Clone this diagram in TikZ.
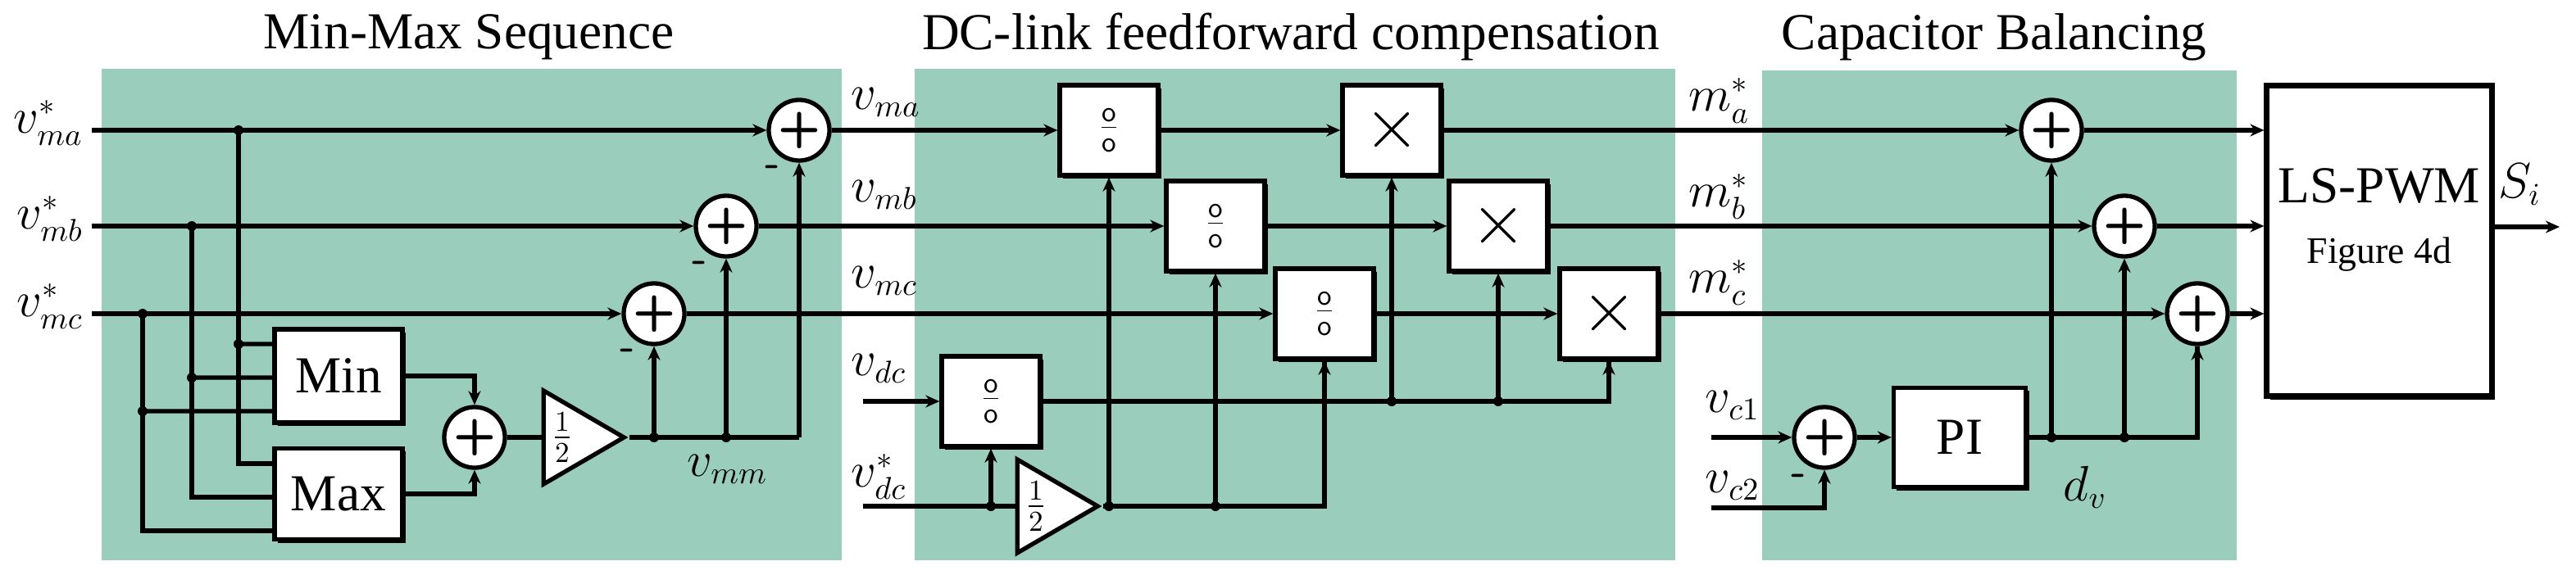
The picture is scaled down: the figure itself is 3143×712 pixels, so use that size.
\documentclass[tikz,border=0pt]{standalone}
\usepackage{fontspec}
\setmainfont{Liberation Serif}
\usetikzlibrary{arrows.meta,shapes.geometric,shadows}
\definecolor{panel}{HTML}{9BCDBC}
\begin{document}
\begin{tikzpicture}[x=0.01cm,y=-0.01cm,
  every path/.style={line width=1.5pt},
  ar/.style={-{Stealth[length=0.17cm,width=0.15cm]}},
  sum/.style={circle,draw,fill=white,minimum size=0.74cm,inner sep=0pt,font=\sffamily\bfseries\LARGE},
  blk/.style={draw,fill=white,inner sep=0pt,general shadow={fill=black,shadow xshift=0.04cm,shadow yshift=-0.04cm}},
  dv/.style={blk,minimum width=1.2cm,minimum height=1.1cm,font=\Large,execute at begin node={$\frac{\mathsf{o}}{\mathsf{o}}$}},
  mu/.style={blk,minimum width=1.2cm,minimum height=1.1cm,font=\Huge,execute at begin node={$\times$}},
  gain/.style={isosceles triangle,isosceles triangle stretches,draw,fill=white,inner sep=0pt,minimum width=1.14cm,minimum height=0.98cm},
  dot/.style={circle,fill,inner sep=0pt,minimum size=0.12cm},
  lab/.style={font=\fontsize{16}{18}\selectfont,anchor=west,inner sep=0pt},
  title/.style={font=\fontsize{18}{20}\selectfont},
  half/.style={font=\Large},
  minus/.style={font=\sffamily\bfseries\Large}]
\useasboundingbox (0,0) rectangle (3143,712);
% panels
\fill[panel] (124,84) rectangle (1027,684);
\fill[panel] (1116,84) rectangle (2044,684);
\fill[panel] (2150,86) rectangle (2729,684);
\node[title] (t1) at (572,45) {Min-Max Sequence};
\node[title] (t2) at (1575,45) {DC-link feedforward compensation};
\node[title] (t3) at (2433,45) {Capacitor Balancing};
% panel 1
\coordinate (ia) at (112,159); \coordinate (ib) at (112,276); \coordinate (ic) at (112,383);
\node[lab,anchor=east] (la) at (104,150) {$v^*_{ma}$};
\node[lab,anchor=east] (lb) at (104,267) {$v^*_{mb}$};
\node[lab,anchor=east] (lc) at (104,374) {$v^*_{mc}$};
\node[sum] (Sa) at (975,159) {+};
\node[sum] (Sb) at (886,276) {+};
\node[sum] (Sc) at (798,383) {+};
\node[blk,minimum width=1.56cm,minimum height=1.14cm,font=\fontsize{18}{20}\selectfont] (Min) at (413,459) {Min};
\node[blk,minimum width=1.56cm,minimum height=1.11cm,font=\fontsize{18}{20}\selectfont] (Max) at (413,603) {Max};
\node[sum] (S1) at (579,534) {+};
\node[gain] (G1) at (696,534) {};
\node[half] (h1) at (686,534) {$\frac{1}{2}$};
\coordinate (ja) at (291,159); \coordinate (jb) at (234,276); \coordinate (jc) at (174,383);
\draw[ar] (ia) -- (Sa);
\draw[ar] (ib) -- (Sb);
\draw[ar] (ic) -- (Sc);
\draw (ja) |- ([yshift=0.37cm]Max.west);
\draw (jb) |- ([yshift=-0.04cm]Max.west);
\draw (jc) |- ([yshift=-0.45cm]Max.west);
\draw (ja |- 0,420) coordinate (ka) -- ([yshift=0.39cm]Min.west);
\draw (jb |- 0,461) coordinate (kb) -- ([yshift=-0.02cm]Min.west);
\draw (jc |- 0,502) coordinate (kc) -- ([yshift=-0.43cm]Min.west);
\foreach \p in {ja,jb,jc,ka,kb,kc} \node[dot] at (\p) {};
\draw[ar] (Min.east) -| (S1.north);
\draw[ar] (Max.east) -| (S1.south);
\draw (S1) -- (G1.west);
\draw (G1.apex) -- (Sa.south |- G1.apex) coordinate (ma);
\coordinate (mc) at (Sc.south |- G1.apex);
\coordinate (mb) at (Sb.south |- G1.apex);
\draw[ar] (mc) -- (Sc.south);
\draw[ar] (mb) -- (Sb.south);
\draw[ar] (ma) -- (Sa.south);
\node[dot] at (mc) {}; \node[dot] at (mb) {};
\node[lab] (lmm) at (836,573) {$v_{mm}$};
\node[minus] at ([xshift=-0.32cm,yshift=-0.5cm]Sa.center) {-};
\node[minus] at ([xshift=-0.32cm,yshift=-0.5cm]Sb.center) {-};
\node[minus] at ([xshift=-0.32cm,yshift=-0.5cm]Sc.center) {-};
% panel 2
\node[lab] (l2a) at (1036,125) {$v_{ma}$};
\node[lab] (l2b) at (1036,238) {$v_{mb}$};
\node[lab] (l2c) at (1036,343) {$v_{mc}$};
\node[lab] (l2d) at (1036,450) {$v_{dc}$};
\node[lab] (l2e) at (1036,582) {$v^*_{dc}$};
\node[dv] (DA) at (1353,159) {};
\node[dv] (DB) at (1483,276) {};
\node[dv] (DC) at (1616,383) {};
\node[dv] (DD) at (1209,490) {};
\node[mu] (MA) at (1698,159) {};
\node[mu] (MB) at (1828,276) {};
\node[mu] (MC) at (1963,383) {};
\node[gain] (G2) at (1274,618) {};
\node[half] (h2) at (1264,618) {$\frac{1}{2}$};
\draw[ar] (Sa) -- (DA); \draw[ar] (DA) -- (MA);
\draw[ar] (Sb) -- (DB); \draw[ar] (DB) -- (MB);
\draw[ar] (Sc) -- (DC); \draw[ar] (DC) -- (MC);
\coordinate (idc) at (1053,490); \coordinate (ids) at (1053,618);
\draw[ar] (idc) -- (DD);
\draw (ids) -- (G2.west);
\coordinate (qd) at (DD.south |- ids);
\draw[ar] (qd) -- (DD.south); \node[dot] at (qd) {};
\draw (G2.apex) -| (DC.south);
\draw[ar] (DC.south |- G2.apex) -- (DC.south);
\coordinate (qa) at (DA.south |- G2.apex); \coordinate (qb) at (DB.south |- G2.apex);
\draw[ar] (qa) -- (DA.south); \draw[ar] (qb) -- (DB.south);
\node[dot] at (qa) {}; \node[dot] at (qb) {};
\draw (DD.east) -| (MC.south);
\draw[ar] (MC.south |- DD.east) -- (MC.south);
\coordinate (ra) at (MA.south |- DD.east); \coordinate (rb) at (MB.south |- DD.east);
\draw[ar] (ra) -- (MA.south); \draw[ar] (rb) -- (MB.south);
\node[dot] at (ra) {}; \node[dot] at (rb) {};
% panel 3
\node[lab] (l3a) at (2058,123) {$m^*_{a}$};
\node[lab] (l3b) at (2058,240) {$m^*_{b}$};
\node[lab] (l3c) at (2058,345) {$m^*_{c}$};
\node[sum] (Ta) at (2503,159) {+};
\node[sum] (Tb) at (2592,276) {+};
\node[sum] (Tc) at (2681,383) {+};
\node[blk,line width=2pt,minimum width=2.74cm,minimum height=3.79cm] (LS) at (2903,294) {};
\node[font=\fontsize{18}{20}\selectfont] (lsl) at (2903,227) {LS-PWM};
\node[font=\fontsize{13}{15}\selectfont] (lsf) at (2903,311) {Figure 4d};
\draw[ar] (MA) -- (Ta); \draw[ar] (Ta) -- (LS.west |- Ta);
\draw[ar] (MB) -- (Tb); \draw[ar] (Tb) -- (LS.west |- Tb);
\draw[ar] (MC) -- (Tc); \draw[ar] (Tc) -- (LS.west |- Tc);
\coordinate (so) at (3123,277);
\draw[ar] (LS.east |- so) -- (so);
\node[lab] (lsi) at (3046,225) {$S_i$};
\node[lab] (lc1) at (2078,495) {$v_{c1}$};
\node[lab] (lc2) at (2078,593) {$v_{c2}$};
\node[sum] (Sd) at (2226,534) {+};
\node[blk,minimum width=1.61cm,minimum height=1.21cm,font=\fontsize{18}{20}\selectfont] (PI) at (2391,534) {PI};
\coordinate (c1) at (2088,534); \coordinate (c2) at (2088,620);
\draw[ar] (c1) -- (Sd);
\draw[ar] (c2) -| (Sd.south);
\node[minus] at (2195,586) {-};
\draw[ar] (Sd) -- (PI);
\draw (PI.east) -| (Tc.south);
\draw[ar] (Tc.south |- PI.east) -- (Tc.south);
\coordinate (pa) at (Ta.south |- PI.east); \coordinate (pb) at (Tb.south |- PI.east);
\draw[ar] (pa) -- (Ta.south); \draw[ar] (pb) -- (Tb.south);
\node[dot] at (pa) {}; \node[dot] at (pb) {};
\node[lab] (ldv) at (2515,595) {$d_v$};
\end{tikzpicture}
\end{document}
